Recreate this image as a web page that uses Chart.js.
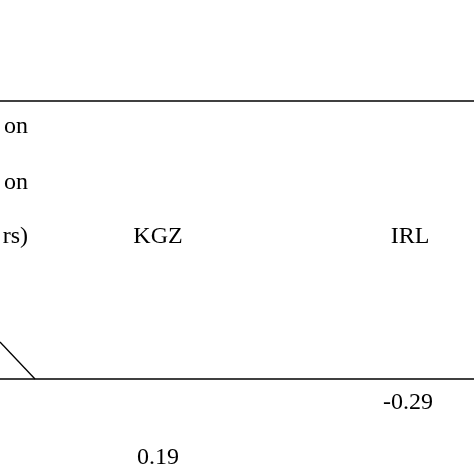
<!DOCTYPE html>
<html><head><meta charset="utf-8">
<script src="https://cdn.jsdelivr.net/npm/chart.js@4"></script>
<style>html,body{margin:0;padding:0;background:#fff}#w{width:474px;height:474px}</style>
</head><body><div id="w"><canvas id="c"></canvas></div>
<script>
// Table fragment content
const rowLabels = ["on", "on", "rs)"];
const columns = ["KGZ", "IRL"];
const irlValues = ["-0.29"];
const kgzValues = ["0.19"];

const textItems = [
  {t: rowLabels[0], x: 28, y: 127, a: "right"},
  {t: rowLabels[1], x: 28, y: 183, a: "right"},
  {t: rowLabels[2], x: 28, y: 237, a: "right"},
  {t: columns[0], x: 158, y: 237, a: "center"},
  {t: columns[1], x: 410, y: 237, a: "center"},
  {t: irlValues[0], x: 408, y: 403, a: "center"},
  {t: kgzValues[0], x: 158, y: 458, a: "center"}
];

const textPlugin = {
  id: "texts",
  afterDatasetsDraw(chart) {
    const {ctx, scales: {x, y}} = chart;
    ctx.save();
    ctx.fillStyle = "#000";
    ctx.font = "24px 'Liberation Serif'";
    ctx.textBaseline = "middle";
    textItems.forEach(it => {
      ctx.textAlign = it.a;
      ctx.fillText(it.t, x.getPixelForValue(it.x), y.getPixelForValue(it.y));
    });
    ctx.restore();
  }
};

const lineStyle = {borderColor: "#000", borderWidth: 1.3, pointRadius: 0, showLine: true, fill: false};
new Chart(document.getElementById("c"), {
  type: "scatter",
  data: {datasets: [
    {...lineStyle, data: [{x: 0, y: 101}, {x: 474, y: 101}]},
    {...lineStyle, data: [{x: 0, y: 379}, {x: 474, y: 379}]},
    {...lineStyle, data: [{x: 0, y: 342}, {x: 35, y: 379}]}
  ]},
  options: {
    responsive: true, maintainAspectRatio: false, animation: false,
    layout: {padding: 0},
    plugins: {legend: {display: false}, tooltip: {enabled: false}},
    scales: {
      x: {type: "linear", min: 0, max: 474, display: false},
      y: {type: "linear", min: 0, max: 474, reverse: true, display: false}
    }
  },
  plugins: [textPlugin]
});
</script></body></html>
